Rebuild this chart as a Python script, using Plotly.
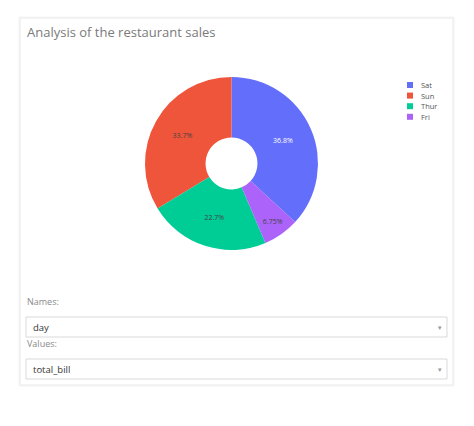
import plotly.graph_objects as go

# tips dataset, total_bill summed per day
days = ['Sat', 'Sun', 'Thur', 'Fri']
total_bill = [1778.40, 1627.16, 1096.33, 325.88]
day_colors = ['#636efa', '#EF553B', '#00cc96', '#ab63fa']

names_option = 'day'
values_option = 'total_bill'

# page body has an 8px margin, so the figure is a bit smaller than the window
OFF = 8
W, H = 474 - 2 * OFF, 426 - 2 * OFF


def px_x(x):
    return (x - OFF) / W


def px_y(y):
    return 1 - (y - OFF) / H


fig = go.Figure()

fig.add_trace(go.Pie(labels=days, values=total_bill, hole=0.3,
                     marker=dict(colors=day_colors),
                     sort=True, direction='counterclockwise',
                     textinfo='percent', textposition='inside',
                     insidetextorientation='horizontal',
                     textfont=dict(size=7),
                     showlegend=False,
                     domain=dict(x=[px_x(145), px_x(318)], y=[px_y(250), px_y(77)])))

shapes = []
annotations = []

# card
shapes.append(dict(type='rect', xref='paper', yref='paper',
                   x0=px_x(19), x1=px_x(454), y0=px_y(386), y1=px_y(17),
                   line=dict(color='#f4f4f4', width=1), fillcolor='white', layer='below'))
shapes.append(dict(type='rect', xref='paper', yref='paper',
                   x0=px_x(20), x1=px_x(453), y0=px_y(385), y1=px_y(18),
                   line=dict(color='#e8e8e8', width=1), fillcolor='white', layer='below'))

annotations.append(dict(text='Analysis of the restaurant sales', xref='paper', yref='paper',
                        x=px_x(25), y=px_y(32), xanchor='left', yanchor='middle',
                        showarrow=False, font=dict(size=13, color='#7a7a7a')))

# legend built from the day list
for i, (d, c) in enumerate(zip(days, day_colors)):
    yc = 85 + i * 10.6
    shapes.append(dict(type='rect', xref='paper', yref='paper',
                       x0=px_x(407), x1=px_x(413), y0=px_y(yc + 3), y1=px_y(yc - 3),
                       line=dict(width=0), fillcolor=c))
    annotations.append(dict(text=d, xref='paper', yref='paper',
                            x=px_x(419), y=px_y(yc), xanchor='left', yanchor='middle',
                            showarrow=False, font=dict(size=7.5, color='#555')))

# dropdowns
for label, value, ylab, ybox in [('Names:', names_option, 301, 317),
                                  ('Values:', values_option, 343, 359)]:
    annotations.append(dict(text=label, xref='paper', yref='paper',
                            x=px_x(25), y=px_y(ylab), xanchor='left', yanchor='middle',
                            showarrow=False, font=dict(size=9, color='#8a8a8a')))
    shapes.append(dict(type='rect', xref='paper', yref='paper',
                       x0=px_x(26), x1=px_x(447), y0=px_y(ybox + 20), y1=px_y(ybox),
                       line=dict(color='#d9d9d9', width=1), fillcolor='white'))
    annotations.append(dict(text=value, xref='paper', yref='paper',
                            x=px_x(31), y=px_y(ybox + 10), xanchor='left', yanchor='middle',
                            showarrow=False, font=dict(size=9.5, color='#333')))
    annotations.append(dict(text='▾', xref='paper', yref='paper',
                            x=px_x(440), y=px_y(ybox + 10), xanchor='center', yanchor='middle',
                            showarrow=False, font=dict(size=7, color='#999')))

fig.update_layout(width=W, height=H, autosize=False,
                  margin=dict(l=0, r=0, t=0, b=0),
                  paper_bgcolor='white', plot_bgcolor='white',
                  font=dict(family='Open Sans'),
                  shapes=shapes, annotations=annotations)

fig.write_html("out.html", config={'displayModeBar': False})
